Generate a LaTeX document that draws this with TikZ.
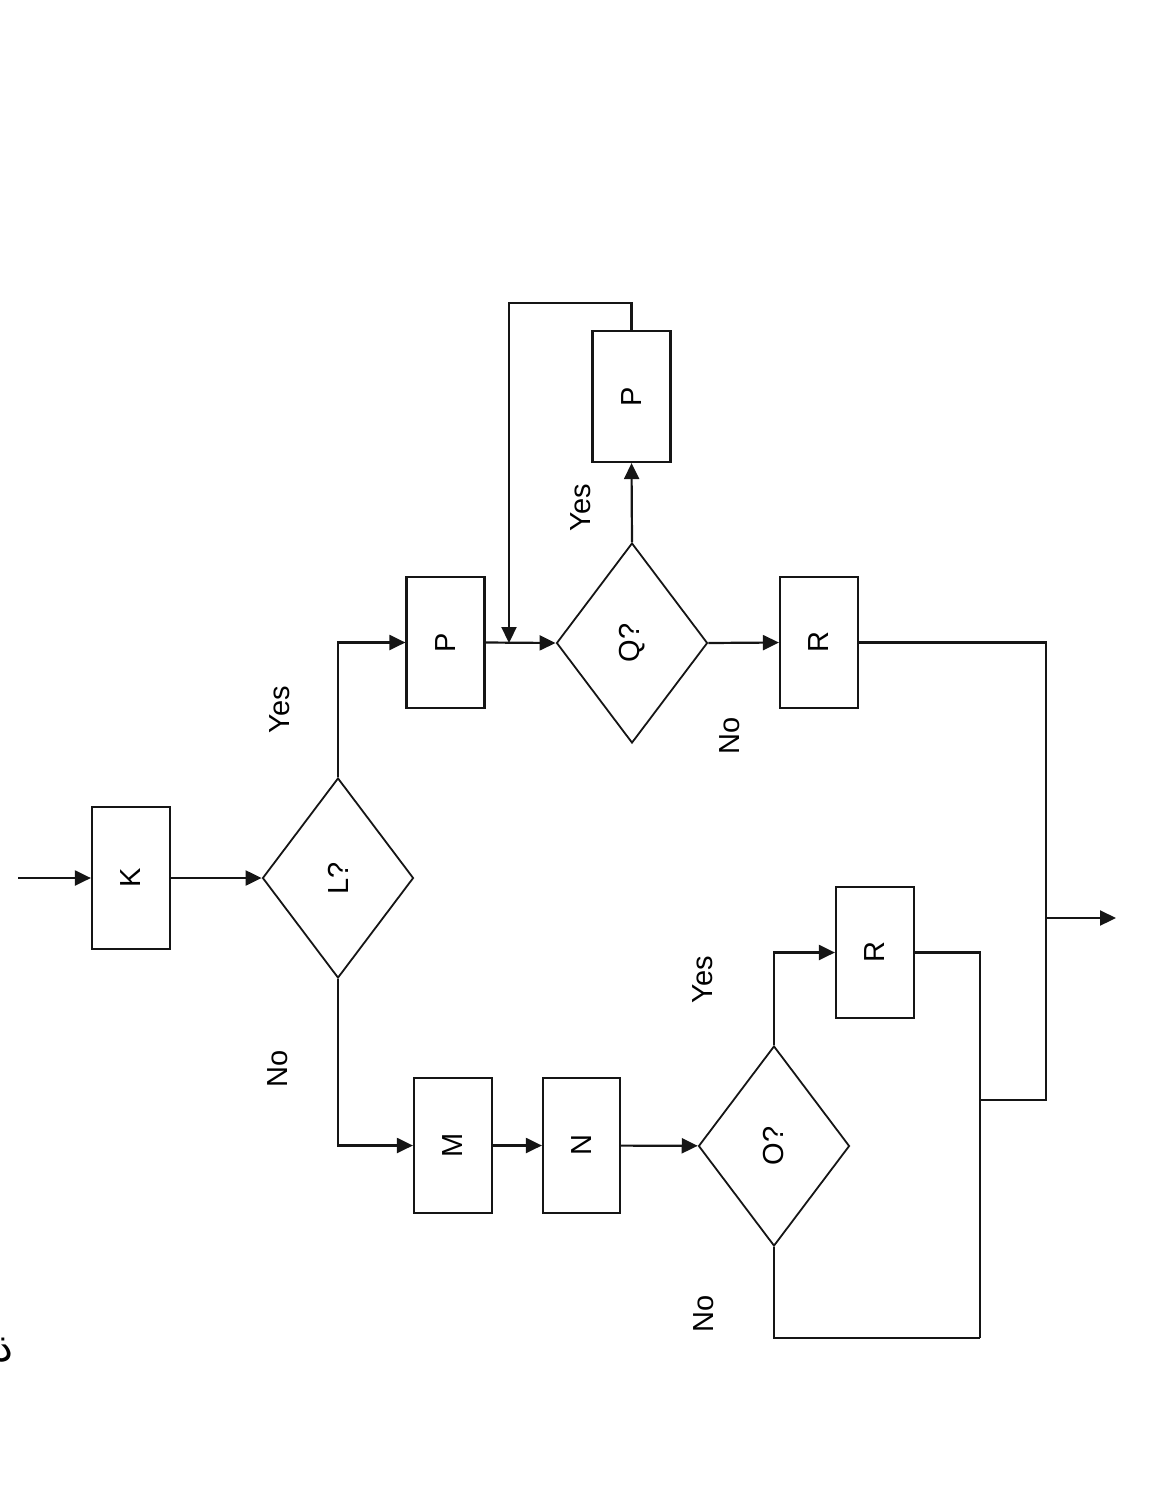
\documentclass[tikz,border=0pt]{standalone}
\usepackage{fontspec}
\setmainfont{Liberation Sans}
\newfontfamily\arabicfont[Script=Arabic]{DejaVu Sans}
\TeXXeTstate=1
\usetikzlibrary{shapes.geometric,arrows.meta}
\definecolor{ln}{HTML}{151515}
\begin{document}
\begin{tikzpicture}[x=1pt,y=-1pt,line width=2.2pt,
  box/.style={draw=ln,rectangle,minimum width=78pt,minimum height=131pt,inner sep=0pt,font=\fontsize{29}{34}\selectfont},
  dec/.style={draw=ln,diamond,minimum width=151pt,minimum height=200pt,inner sep=0pt,line width=1.8pt,font=\fontsize{29}{34}\selectfont},
  lbl/.style={inner sep=0pt,font=\fontsize{29}{34}\selectfont},
  arr/.style={draw=ln,-{Triangle[length=16pt,width=15pt]}},
  con/.style={draw=ln}]
\useasboundingbox (0,0) rectangle (1153,1489);
% nodes
\node[box,minimum height=142pt] (K) at (131,878) {\rotatebox{90}{K}};
\node[dec] (L) at (338,878) {\rotatebox{90}{L?}};
\node[box] (P) at (445.5,642.5) {\rotatebox{90}{P}};
\node[dec] (Q) at (632,643) {\rotatebox{90}{Q?}};
\node[box] (P2) at (631.5,396.5) {\rotatebox{90}{P}};
\node[box] (R) at (819,642.5) {\rotatebox{90}{R}};
\node[box,minimum height=135pt] (M) at (453,1145.5) {\rotatebox{90}{M}};
\node[box,minimum height=135pt,minimum width=77pt] (N) at (581.5,1145.5) {\rotatebox{90}{N}};
\node[dec] (O) at (774,1146) {\rotatebox{90}{O?}};
\node[box] (R2) at (875,952.5) {\rotatebox{90}{R}};
% labels
\node[lbl] (y1) at (280,710) {\rotatebox{90}{Yes}};
\node[lbl] (n1) at (278,1069) {\rotatebox{90}{No}};
\node[lbl] (y2) at (581,508) {\rotatebox{90}{Yes}};
\node[lbl] (n2) at (730,736) {\rotatebox{90}{No}};
\node[lbl] (y3) at (703,980) {\rotatebox{90}{Yes}};
\node[lbl] (n3) at (704,1314) {\rotatebox{90}{No}};
\node[inner sep=0pt,anchor=east,font=\arabicfont\fontsize{40}{44}\selectfont] (ar) at (14,1350) {\beginR ذ\endR};
% coordinates
\coordinate (in) at (18,878);
\coordinate (j1) at (509,643);
\coordinate (t1) at (509,303);
\coordinate (m1) at (1046,1100);
\coordinate (j2) at (980,1100);
\coordinate (e1) at (1046,918);
\coordinate (out) at (1116,918);
\coordinate (b2) at (980,1338);
% connectors
\draw[arr] (in) -- (K);
\draw[arr] (K) -- (L);
\draw[arr] (L.north) |- (P.west);
\draw[arr] (P.east) -- (Q.west);
\draw[arr] (Q.north) -- (P2.south);
\draw[arr] (P2.north) |- (t1) -- (j1);
\draw[arr] (Q.east) -- (R.west);
\draw[con] (R.east) -| (m1) -- (j2);
\draw[arr] (e1) -- (out);
\draw[arr] (L.south) |- (M.west);
\draw[arr] (M) -- (N);
\draw[arr] (N) -- (O);
\draw[arr] (O.north) |- (R2.west);
\draw[con] (R2.east) -| (b2);
\draw[con] (O.south) |- (b2);
\end{tikzpicture}
\end{document}
